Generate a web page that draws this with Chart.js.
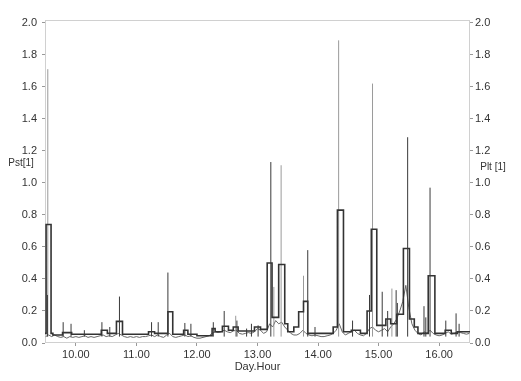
<!DOCTYPE html>
<html>
<head>
<meta charset="utf-8">
<script src="https://cdn.jsdelivr.net/npm/chart.js@4.4.1/dist/chart.umd.min.js"></script>
<style>
  html, body { margin: 0; padding: 0; background: #fff; }
</style>
</head>
<body>
<canvas id="myChart" width="521" height="381"></canvas>
<script>
// Pst sampled every 0.05 h from 9.50 to 16.50
const pstStart = 9.5;
const pstStep = 0.05;
const pstValues = [
  0.04, 0.05, 0.04, 0.05, 0.04, 0.035, 0.04, 0.03, 0.04, 0.035,
  0.04, 0.035, 0.04, 0.045, 0.035, 0.04, 0.035, 0.04, 0.045, 0.05,
  0.04, 0.045, 0.04, 0.05, 0.06, 0.05, 0.04, 0.035, 0.04, 0.035,
  0.04, 0.035, 0.04, 0.04, 0.045, 0.05, 0.04, 0.05, 0.04, 0.035,
  0.05, 0.06, 0.04, 0.035, 0.04, 0.045, 0.05, 0.04, 0.045, 0.035,
  0.03, 0.03, 0.035, 0.04, 0.045, 0.06, 0.07, 0.065, 0.07, 0.08,
  0.07, 0.065, 0.075, 0.08, 0.06, 0.055, 0.06, 0.065, 0.06, 0.07,
  0.09, 0.08, 0.06, 0.07, 0.12, 0.10, 0.14, 0.12, 0.13, 0.10,
  0.08, 0.06, 0.05, 0.05, 0.06, 0.08, 0.06, 0.05, 0.045, 0.05,
  0.045, 0.04, 0.04, 0.045, 0.05, 0.06, 0.08, 0.12, 0.07, 0.05,
  0.06, 0.07, 0.08, 0.06, 0.05, 0.045, 0.06, 0.09, 0.10, 0.08,
  0.07, 0.08, 0.09, 0.07, 0.10, 0.12, 0.15, 0.20, 0.26, 0.36,
  0.22, 0.12, 0.08, 0.06, 0.05, 0.07, 0.06, 0.08, 0.06, 0.05,
  0.045, 0.05, 0.06, 0.07, 0.055, 0.06, 0.07, 0.065, 0.06, 0.055, 0.06
];

// short Pst peaks (light grey and dark)
const greySpikeHours = [9.536, 12.64, 13.27, 13.39, 13.76, 14.34, 14.90, 15.22];
const greySpikeTops  = [1.71, 0.17, 0.35, 1.11, 0.42, 1.89, 1.62, 0.34];

const darkSpikeHours = [9.53, 9.79, 9.92, 10.14, 10.43, 10.56, 10.72, 11.25, 11.36, 11.52,
  11.80, 11.90, 12.27, 12.45, 12.66, 12.82, 12.90, 13.01, 13.22, 13.83,
  13.95, 14.57, 14.85, 15.06, 15.15, 15.29, 15.31, 15.48, 15.75, 15.78,
  15.85, 16.11, 16.28, 16.33];
const darkSpikeTops = [0.30, 0.13, 0.12, 0.08, 0.13, 0.10, 0.29, 0.13, 0.13, 0.44,
  0.125, 0.12, 0.13, 0.20, 0.14, 0.09, 0.12, 0.11, 1.13, 0.58,
  0.10, 0.14, 0.30, 0.32, 0.20, 0.33, 0.25, 1.285, 0.23, 0.16,
  0.97, 0.14, 0.185, 0.12];
const spikeBase = 0.04;

// Plt step changes (value holds until the next hour)
const pltHours = [9.49, 9.508, 9.59, 9.62, 9.78, 9.93, 10.42, 10.52, 10.67, 10.77,
  11.2, 11.3, 11.52, 11.6, 11.78, 11.85, 12.0, 12.25, 12.3, 12.42,
  12.52, 12.6, 12.68, 12.95, 13.05, 13.16, 13.24, 13.35, 13.45, 13.5,
  13.6, 13.68, 13.76, 13.83, 14.25, 14.32, 14.42, 14.55, 14.7, 14.81,
  14.88, 14.97, 15.12, 15.2, 15.3, 15.41, 15.51, 15.59, 15.65, 15.82,
  15.93, 16.1, 16.2, 16.3, 16.51];
const pltValues = [0.06, 0.74, 0.06, 0.05, 0.065, 0.055, 0.08, 0.06, 0.135, 0.055,
  0.07, 0.06, 0.195, 0.055, 0.08, 0.055, 0.045, 0.09, 0.07, 0.105,
  0.08, 0.10, 0.075, 0.10, 0.085, 0.50, 0.16, 0.49, 0.12, 0.07,
  0.10, 0.195, 0.26, 0.06, 0.10, 0.83, 0.07, 0.08, 0.06, 0.20,
  0.71, 0.11, 0.15, 0.12, 0.18, 0.59, 0.15, 0.10, 0.06, 0.42,
  0.06, 0.08, 0.06, 0.07, 0.07];

const xTickValues = [10, 11, 12, 13, 14, 15, 16];
const yTickValues = [0, 0.2, 0.4, 0.6, 0.8, 1.0, 1.2, 1.4, 1.6, 1.8, 2.0];

const pstPoints = pstValues.map((v, i) => ({ x: pstStart + i * pstStep, y: v }));
const pltPoints = pltHours.map((h, i) => ({ x: h, y: pltValues[i] }));

function spikeSegments(hours, tops) {
  const pts = [];
  hours.forEach((h, i) => {
    pts.push({ x: h, y: spikeBase }, { x: h, y: tops[i] }, { x: h, y: null });
  });
  return pts;
}

const textColor = '#333';
const tickFont = { family: 'Liberation Sans, Arial, sans-serif', size: 11 };

const frameAndLabels = {
  id: 'frameAndLabels',
  beforeDatasetsDraw(chart) {
    const { ctx, chartArea: a } = chart;
    ctx.save();
    ctx.strokeStyle = '#d0d0d0';
    ctx.lineWidth = 1;
    ctx.strokeRect(a.left + 0.5, a.top + 0.5, a.width - 1, a.height - 1);
    ctx.restore();
  },
  afterDraw(chart) {
    const { ctx, chartArea: a, scales } = chart;
    ctx.save();
    ctx.fillStyle = textColor;
    ctx.font = '10px "Liberation Sans Narrow", "Liberation Sans", Arial, sans-serif';
    ctx.textBaseline = 'middle';
    ctx.textAlign = 'center';
    ctx.fillText('Pst[1]', a.left - 24, scales.y.getPixelForValue(1.12));
    ctx.fillText('Plt [1]', a.right + 23, scales.y2.getPixelForValue(1.10));
    ctx.restore();
  }
};

const gridOpts = { drawOnChartArea: false, drawTicks: true, tickLength: 3, color: '#999' };

new Chart(document.getElementById('myChart'), {
  type: 'line',
  data: {
    datasets: [
      {
        label: 'Pst spikes',
        data: spikeSegments(darkSpikeHours, darkSpikeTops),
        borderColor: '#3a3a3a',
        borderWidth: 1,
        yAxisID: 'y',
      },
      {
        label: 'Plt',
        data: pltPoints,
        stepped: 'before',
        borderColor: '#333',
        borderWidth: 1.6,
        yAxisID: 'y2',
      },
      {
        label: 'Pst peaks',
        data: spikeSegments(greySpikeHours, greySpikeTops),
        borderColor: '#9a9a9a',
        borderWidth: 1,
        yAxisID: 'y',
      },
      {
        label: 'Pst',
        data: pstPoints,
        borderColor: '#666',
        borderWidth: 1,
        yAxisID: 'y',
      },
    ],
  },
  options: {
    responsive: false,
    animation: false,
    layout: { padding: { top: 20, left: 0, right: 0, bottom: 0 } },
    elements: { point: { radius: 0 }, line: { tension: 0 } },
    plugins: { legend: { display: false }, tooltip: { enabled: false } },
    scales: {
      x: {
        type: 'linear',
        min: 9.49,
        max: 16.51,
        grid: gridOpts,
        border: { display: false },
        afterBuildTicks: (scale) => { scale.ticks = xTickValues.map(v => ({ value: v })); },
        afterFit: (scale) => { scale.height = 38; },
        ticks: {
          color: textColor,
          font: tickFont,
          padding: 2,
          maxRotation: 0,
          callback: (v) => Number(v).toFixed(2),
        },
        title: {
          display: true,
          text: 'Day.Hour',
          color: textColor,
          font: tickFont,
          padding: { top: 0, bottom: 7 },
        },
      },
      y: {
        position: 'left',
        min: 0,
        max: 2.017,
        grid: gridOpts,
        border: { display: false },
        afterBuildTicks: (scale) => { scale.ticks = yTickValues.map(v => ({ value: v })); },
        afterFit: (scale) => { scale.width = 45; },
        ticks: { color: textColor, font: tickFont, padding: 5, callback: (v) => Number(v).toFixed(1) },
      },
      y2: {
        position: 'right',
        min: 0,
        max: 2.017,
        grid: gridOpts,
        border: { display: false },
        afterBuildTicks: (scale) => { scale.ticks = yTickValues.map(v => ({ value: v })); },
        afterFit: (scale) => { scale.width = 51; },
        ticks: { color: textColor, font: tickFont, padding: 2, callback: (v) => Number(v).toFixed(1) },
      },
    },
  },
  plugins: [frameAndLabels],
});
</script>
</body>
</html>
